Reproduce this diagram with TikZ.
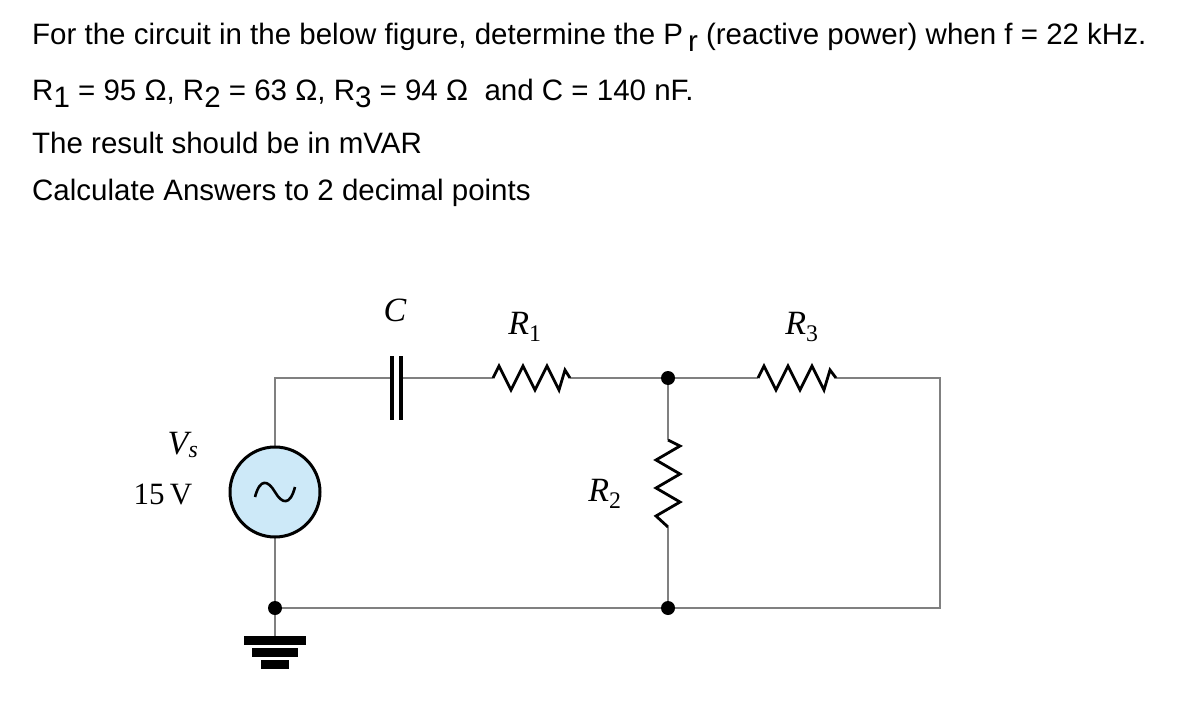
\documentclass[tikz,border=0pt]{standalone}
\usepackage{fontspec}
\setmainfont{Liberation Sans}
\newfontfamily\ser{Liberation Serif}
\definecolor{srcfill}{HTML}{CDE9F8}
\begin{document}
\begin{tikzpicture}[x=1pt,y=-1pt,
  wire/.style={draw=black!50,line width=1.8pt},
  comp/.style={draw=black,line width=2.8pt,line join=miter},
  dot/.style={circle,fill=black,inner sep=0pt,minimum size=14pt},
  txt/.style={anchor=base west,inner sep=0pt,font=\fontsize{29.5}{34}\selectfont},
  lab/.style={inner sep=0pt,font=\ser\itshape\fontsize{34}{38}\selectfont}]
\useasboundingbox (0,0) rectangle (1200,701);
\node[txt] (t1) at (32,45) {For the circuit in the below figure, determine the P\,\raisebox{-7pt}{r} (reactive power) when f = 22 kHz.};
\node[txt] (t2) at (32,100) {R\raisebox{-7pt}{1} = 95 Ω, R\raisebox{-7pt}{2} = 63 Ω, R\raisebox{-7pt}{3} = 94 Ω\ \ and C = 140 nF.};
\node[txt] (t3) at (32,153) {The result should be in mVAR};
\node[txt] (t4) at (32,200) {Calculate Answers to 2 decimal points};
% coordinates
\coordinate (tl) at (275,378);
\coordinate (bl) at (275,608);
\coordinate (n1) at (668,378);
\coordinate (n2) at (668,608);
\coordinate (tr) at (940,378);
\coordinate (br) at (940,608);
\coordinate (c1) at (391,378);
\coordinate (c2) at (401,378);
\coordinate (r1a) at (493,378);
\coordinate (r1b) at (570,378);
\coordinate (r3a) at (758,378);
\coordinate (r3b) at (836,378);
\coordinate (r2a) at (668,440);
\coordinate (r2b) at (668,527);
\coordinate (g) at (275,640);
% wires
\draw[wire] (bl) -- (tl) -- (c1);
\draw[wire] (c2) -- (r1a);
\draw[wire] (r1b) -- (n1) -- (r3a);
\draw[wire] (r3b) -- (tr) -- (br) -- (bl);
\draw[wire] (n1) -- (r2a);
\draw[wire] (r2b) -- (n2);
\draw[wire] (bl) -- (g);
% source
\node[circle,draw=black,line width=3pt,fill=srcfill,minimum size=90pt,inner sep=0pt] (vs) at (275,492) {};
\draw[comp,line width=2.6pt] (255,497) .. controls (260,478) and (268,480) .. (275,492) .. controls (282,504) and (290,506) .. (295,487);
% capacitor
\draw[comp,line width=3.5pt] (392,356) -- (392,420) (401,356) -- (401,420);
% resistors
\draw[comp] (r1a) -- (499,366) -- (511,390) -- (523,366) -- (535,390) -- (547,366) -- (559,390) -- (565,370) -- (r1b);
\draw[comp] (r3a) -- (764,366) -- (776,390) -- (788,366) -- (800,390) -- (812,366) -- (824,390) -- (830,370) -- (r3b);
\draw[comp] (r2a) -- (680,446) -- (656,460) -- (680,474) -- (656,488) -- (680,502) -- (656,516) -- (r2b);
% dots
\node[dot] (d1) at (n1) {};
\node[dot] (d2) at (n2) {};
\node[dot] (d3) at (bl) {};
% ground
\fill (244,636) rectangle (306,645);
\fill (252,648) rectangle (298,657);
\fill (261,660) rectangle (289,669);
% labels
\node[lab] (lc) at (395,310) {C};
\node[lab] (lr1) at (525,327) {R\textsubscript{\upshape 1}};
\node[lab] (lr3) at (802,327) {R\textsubscript{\upshape 3}};
\node[lab] (lr2) at (605,494) {R\textsubscript{\upshape 2}};
\node[lab] (lv) at (183,445) {V\textsubscript{s}};
\node[inner sep=0pt,font=\ser\fontsize{31}{34}\selectfont] (l15) at (163,494) {15\,V};
\end{tikzpicture}
\end{document}
